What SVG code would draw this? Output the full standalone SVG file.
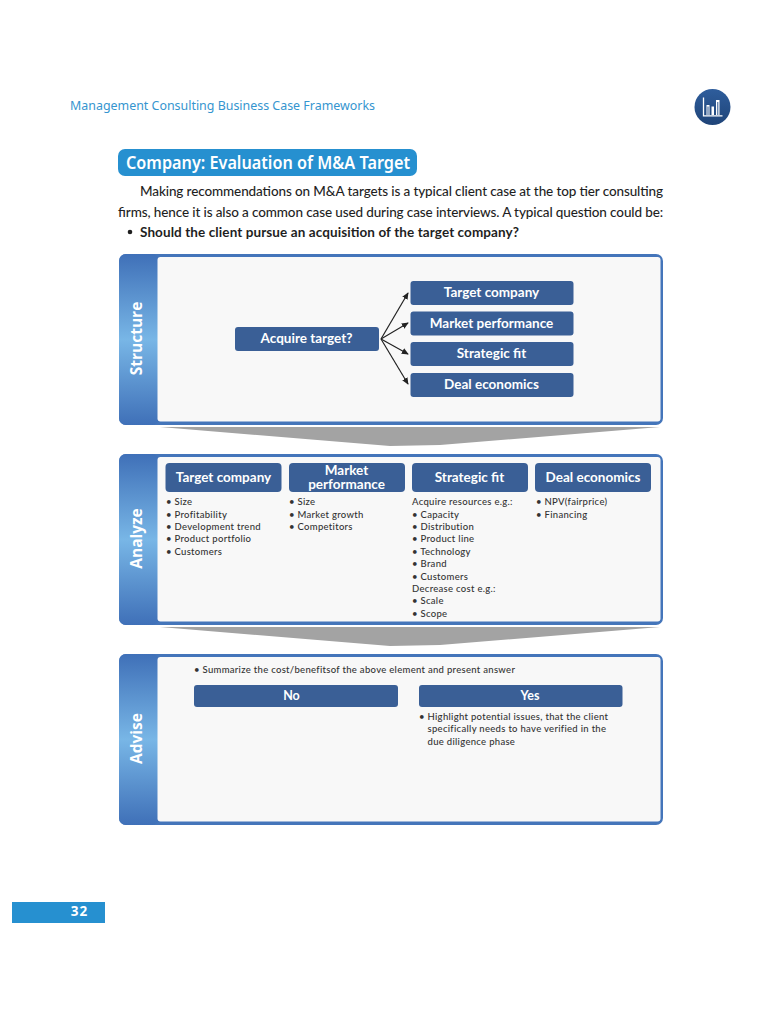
<svg xmlns="http://www.w3.org/2000/svg" width="768" height="1024" viewBox="0 0 768 1024">
<style>
.b{font-family:Lato,"Liberation Sans",sans-serif;font-weight:700}
.t{font-family:Lato,"Liberation Sans",sans-serif;fill:#1f1f1f}
.s{font-size:9.5px;fill:#333;font-weight:500;letter-spacing:.3px}
.w{fill:#fff;text-anchor:middle}
.n{fill:#3a5f96}
.p{fill:#f8f8f8}
.side{fill:#fff;font-family:"Open Sans","Liberation Sans",sans-serif;font-weight:700;font-size:15.500px;text-anchor:middle}
.c{fill:none;stroke:#222;stroke-width:1.2;marker-end:url(#a)}
.g{fill:#a3a3a3}
</style>
<defs>
<linearGradient id="band" x1="0" y1="0" x2="0" y2="1">
<stop offset="0" stop-color="#3f70b8"/><stop offset=".5" stop-color="#78b6e6"/><stop offset="1" stop-color="#3f70b8"/>
</linearGradient>
<linearGradient id="ic" x1="0" y1="0" x2="0" y2="1"><stop offset="0" stop-color="#2e5d9c"/><stop offset="1" stop-color="#1f4478"/></linearGradient>
<marker id="a" viewBox="0 0 8 8" refX="7" refY="4" markerWidth="7" markerHeight="7" markerUnits="userSpaceOnUse" orient="auto"><path d="M0 0.5L8 4L0 7.500z" fill="#222"/></marker>
</defs>
<rect width="768" height="1024" fill="#fff"/>
<text x="70" y="110" font-family="'Noto Sans','Liberation Sans',sans-serif" font-size="13px" fill="#3595cf" textLength="305" lengthAdjust="spacingAndGlyphs">Management Consulting Business Case Frameworks</text>
<g id="logo">
<circle cx="712.500" cy="107" r="18" fill="url(#ic)"/>
<path d="M703.500 97.500V115.800H722.500" fill="none" stroke="#fff" stroke-width="1.300"/>
<path d="M706.500 105H709.500V115H706.500zM711.500 106.500H714V115H711.500zM716 100H719.500V115H716z" fill="#fff"/>
<path d="M707.500 106.500H708.500V115H707.500zM717.300 102H718.300V115H717.300z" fill="#2a548e"/>
</g>
<g id="title">
<rect x="118" y="149" width="299" height="27" rx="7" fill="#2690d0"/>
<text x="126" y="168.500" font-family="'Noto Sans','Liberation Sans',sans-serif" font-weight="600" font-size="18px" fill="#fff" textLength="284" lengthAdjust="spacingAndGlyphs">Company: Evaluation of M&amp;A Target</text>
</g>
<g id="intro">
<text x="140" y="196" class="t" font-size="13.500px" font-weight="500" textLength="523" lengthAdjust="spacing">Making recommendations on M&amp;A targets is a typical client case at the top tier consulting</text>
<text x="118" y="217" class="t" font-size="13.500px" font-weight="500" textLength="545" lengthAdjust="spacing">firms, hence it is also a common case used during case interviews. A typical question could be:</text>
<circle cx="130" cy="232" r="2.300" fill="#1f1f1f"/>
<text x="140" y="237" class="b" font-size="13.500px" fill="#1f1f1f" textLength="379" lengthAdjust="spacing">Should the client pursue an acquisition of the target company?</text>
</g>
<g id="panel-structure">
<rect x="119" y="254" width="544" height="171" rx="7" fill="#4475ba"/>
<rect x="119" y="254" width="40" height="171" rx="7" fill="url(#band)"/>
<rect x="157.500" y="257" width="503" height="164.500" rx="3" class="p"/>
<text class="side" transform="translate(141.500 338.500) rotate(-90)">Structure</text>
</g>
<g id="panel-analyze">
<rect x="119" y="454" width="544" height="171" rx="7" fill="#4475ba"/>
<rect x="119" y="454" width="40" height="171" rx="7" fill="url(#band)"/>
<rect x="157.500" y="457" width="503" height="164.500" rx="3" class="p"/>
<text class="side" transform="translate(141.500 538.500) rotate(-90)">Analyze</text>
</g>
<g id="panel-advise">
<rect x="119" y="654" width="544" height="171" rx="7" fill="#4475ba"/>
<rect x="119" y="654" width="40" height="171" rx="7" fill="url(#band)"/>
<rect x="157.500" y="657" width="503" height="164.500" rx="3" class="p"/>
<text class="side" transform="translate(141.500 738.500) rotate(-90)">Advise</text>
</g>
<g id="connectors">
<polygon class="g" points="160,427 660,427 440,445 390,446"/>
<polygon class="g" points="160,627 660,627 440,645 390,646"/>
<path class="c" d="M381 339L408 293"/>
<path class="c" d="M381 339L408 323"/>
<path class="c" d="M381 339L408 354"/>
<path class="c" d="M381 339L408 384"/>
</g>
<g id="node-acquire"><rect x="235" y="327" width="144" height="24" rx="3" class="n"/><text x="306.500" y="343" class="b w" font-size="13.500px">Acquire target?</text></g>
<g id="node-target"><rect x="410.500" y="281" width="163" height="24" rx="3" class="n"/><text x="491.500" y="297" class="b w" font-size="13.500px">Target company</text></g>
<g id="node-market"><rect x="410.500" y="311.500" width="163" height="24" rx="3" class="n"/><text x="491.500" y="327.500" class="b w" font-size="13.500px">Market performance</text></g>
<g id="node-fit"><rect x="410.500" y="342" width="163" height="24" rx="3" class="n"/><text x="491.500" y="358" class="b w" font-size="13.500px">Strategic fit</text></g>
<g id="node-deal"><rect x="410.500" y="373" width="163" height="24" rx="3" class="n"/><text x="491.500" y="388.500" class="b w" font-size="13.500px">Deal economics</text></g>
<g id="col-target">
<rect x="165.500" y="463" width="116" height="29" rx="4" class="n"/><text x="223.500" y="482" class="b w" font-size="13.500px">Target company</text>
<text class="t s"><tspan x="166" y="505">• Size</tspan><tspan x="166" y="517.500">• Profitability</tspan><tspan x="166" y="530">• Development trend</tspan><tspan x="166" y="542">• Product portfolio</tspan><tspan x="166" y="554.500">• Customers</tspan></text>
</g>
<g id="col-market">
<rect x="289" y="463" width="116" height="29" rx="4" class="n"/><text class="b w" font-size="13.500px"><tspan x="346.500" y="475">Market</tspan><tspan x="346.500" y="489">performance</tspan></text>
<text class="t s"><tspan x="289" y="505">• Size</tspan><tspan x="289" y="517.500">• Market growth</tspan><tspan x="289" y="530">• Competitors</tspan></text>
</g>
<g id="col-fit">
<rect x="412" y="463" width="116" height="29" rx="4" class="n"/><text x="469.500" y="482" class="b w" font-size="13.500px">Strategic fit</text>
<text class="t s"><tspan x="412" y="505">Acquire resources e.g.:</tspan><tspan x="412" y="517.500">• Capacity</tspan><tspan x="412" y="530">• Distribution</tspan><tspan x="412" y="542">• Product line</tspan><tspan x="412" y="554.500">• Technology</tspan><tspan x="412" y="567">• Brand</tspan><tspan x="412" y="579.500">• Customers</tspan><tspan x="412" y="592">Decrease cost e.g.:</tspan><tspan x="412" y="604">• Scale</tspan><tspan x="412" y="616.500">• Scope</tspan></text>
</g>
<g id="col-deal">
<rect x="535" y="463" width="116" height="29" rx="4" class="n"/><text x="593" y="482" class="b w" font-size="13.500px">Deal economics</text>
<text class="t s"><tspan x="536" y="505">• NPV(fairprice)</tspan><tspan x="536" y="517.500">• Financing</tspan></text>
</g>
<g id="advise-summary"><text x="194" y="673" class="t s">• Summarize the cost/benefitsof the above element and present answer</text></g>
<g id="node-no"><rect x="194" y="685" width="204" height="22" rx="3" class="n"/><text x="291.500" y="700" class="b w" font-size="12.500px">No</text></g>
<g id="node-yes">
<rect x="419" y="685" width="203.500" height="22" rx="3" class="n"/><text x="530" y="700" class="b w" font-size="12.500px">Yes</text>
<text class="t s"><tspan x="419" y="720">• Highlight potential issues, that the client</tspan><tspan x="427.500" y="732">specifically needs to have verified in the</tspan><tspan x="427.500" y="744.500">due diligence phase</tspan></text>
</g>
<g id="page-number">
<rect x="12" y="902" width="93" height="21" fill="#2690d0"/>
<text x="79.500" y="916" font-family="'Noto Sans','Liberation Sans',sans-serif" font-weight="700" font-size="13.500px" letter-spacing="1" fill="#fff" text-anchor="middle">32</text>
</g>
</svg>
